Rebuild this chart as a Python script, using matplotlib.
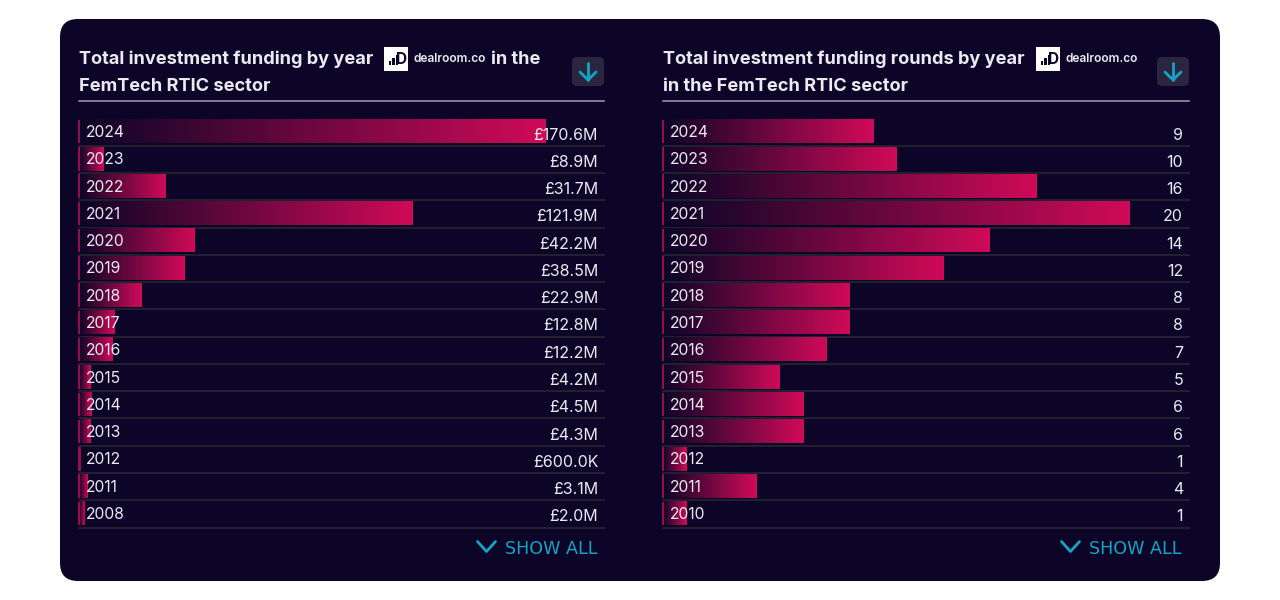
import numpy as np
import matplotlib
matplotlib.use("Agg")
import matplotlib.pyplot as plt
from matplotlib.colors import LinearSegmentedColormap
from matplotlib.patches import FancyBboxPatch, Rectangle

funding_years = ["2024", "2023", "2022", "2021", "2020", "2019", "2018", "2017",
                 "2016", "2015", "2014", "2013", "2012", "2011", "2008"]
funding_values = [170.6, 8.9, 31.7, 121.9, 42.2, 38.5, 22.9, 12.8,
                  12.2, 4.2, 4.5, 4.3, 0.6, 3.1, 2.0]
funding_labels = ["£170.6M", "£8.9M", "£31.7M", "£121.9M", "£42.2M", "£38.5M", "£22.9M", "£12.8M",
                  "£12.2M", "£4.2M", "£4.5M", "£4.3M", "£600.0K", "£3.1M", "£2.0M"]

round_years = ["2024", "2023", "2022", "2021", "2020", "2019", "2018", "2017",
               "2016", "2015", "2014", "2013", "2012", "2011", "2010"]
round_values = [9, 10, 16, 20, 14, 12, 8, 8, 7, 5, 6, 6, 1, 4, 1]

BG = "#0c0527"
TEXT = "#ece9f1"
CYAN = "#14a4c6"
FONT = "Inter"
W, H = 1280, 600

fig = plt.figure(figsize=(W / 100, H / 100), dpi=100, facecolor="white")
page = fig.add_axes([0, 0, 1, 1])
page.set_xlim(0, W)
page.set_ylim(H, 0)
page.axis("off")

page.add_patch(FancyBboxPatch((60, 19), 1160, 562,
                              boxstyle="round,pad=0,rounding_size=18",
                              fc=BG, ec="none"))

bar_cmap = LinearSegmentedColormap.from_list("bar", [BG, "#d00a58"])
ramp = np.linspace(0, 1, 256).reshape(1, -1)


def logo(x, y):
    page.add_patch(Rectangle((x, y), 24, 24, fc="white", ec="none"))
    for dx, top in ((4.5, 13.5), (8, 10.5), (11.5, 7.5)):
        page.add_patch(Rectangle((x + dx, y + top), 2.6, 17.5 - top, fc=BG, ec="none"))
    page.text(x + 18, y + 12, "D", color=BG, fontsize=11, fontweight="bold",
              family=FONT, ha="center", va="center")
    page.text(x + 29, y + 12.5, "dealroom.co", color=TEXT, fontsize=8.6,
              fontweight="semibold", family=FONT, ha="left", va="center")


def title(x, y, s):
    page.text(x, y, s, color=TEXT, fontsize=13.1, fontweight="bold",
              family=FONT, ha="left", va="center")


def download_button(x):
    page.add_patch(FancyBboxPatch((x, 57), 32, 29,
                                  boxstyle="round,pad=0,rounding_size=5",
                                  fc="#2a2640", ec="none"))
    cx = x + 16
    page.plot([cx, cx], [63, 80], color=CYAN, lw=2.0, solid_capstyle="round")
    page.plot([cx - 8, cx, cx + 8], [72, 80, 72], color=CYAN, lw=2.0,
              solid_capstyle="round", solid_joinstyle="round")


def show_all(right):
    page.text(right, 548.5, "SHOW ALL", color=CYAN, fontsize=12.6,
              family="DejaVu Sans", ha="right", va="center")
    x0 = right - 120
    page.plot([x0, x0 + 9, x0 + 18], [541.5, 551.5, 541.5], color=CYAN, lw=2.0,
              solid_capstyle="round", solid_joinstyle="round")


def bar_panel(left, right, per_px, years, values, labels):
    top, bottom = 118.4, 527.6
    ax = fig.add_axes([left / W, 1 - bottom / H, (right - left) / W, (bottom - top) / H])
    ax.patch.set_alpha(0)
    n = len(values)
    ax.set_xticks([])
    ax.set_yticks([])
    for s in ax.spines.values():
        s.set_visible(False)
    h = 23.5 / 27.28
    off = -0.02
    for i, v in enumerate(values):
        ax.imshow(ramp, cmap=bar_cmap, aspect="auto", interpolation="bilinear",
                  extent=(0, v, i + off + h / 2, i + off - h / 2), zorder=2)
        ax.plot([0, 0], [i + off - h / 2, i + off + h / 2], color="#c01258",
                lw=1.1, solid_capstyle="butt", zorder=3, clip_on=False)
        ax.axhline(i + 0.5, color="#25222f", lw=1.3, zorder=1, clip_on=False)
        ax.annotate(years[i], (0, i), xytext=(7, -0.5), xycoords="data", textcoords="offset pixels",
                    color=TEXT, fontsize=11.3, family=FONT, ha="left", va="center", zorder=4)
        ax.annotate(labels[i], (1, i), xytext=(-6, -3),
                    xycoords=ax.get_yaxis_transform(), textcoords="offset pixels",
                    color=TEXT, fontsize=11.5, family=FONT, ha="right", va="center", zorder=4)
    ax.set_xlim(0, (right - left) * per_px)
    ax.set_ylim(n - 0.5, -0.5)


# Left panel: funding per year
title(79, 59.5, "Total investment funding by year")
logo(384, 47)
title(491, 59.5, "in the")
title(79, 86.5, "FemTech RTIC sector")
download_button(572)
page.plot([79, 604], [100.5, 100.5], color="#a09eaa", lw=1.1)
bar_panel(79, 604, 1 / 2.737, funding_years, funding_values, funding_labels)
show_all(597.5)

# Right panel: rounds per year
title(663, 59.5, "Total investment funding rounds by year")
logo(1036, 47)
title(663, 86.5, "in the FemTech RTIC sector")
download_button(1157)
page.plot([663, 1189], [100.5, 100.5], color="#a09eaa", lw=1.1)
bar_panel(663, 1189, 1 / 23.35, round_years, round_values, [str(v) for v in round_values])
show_all(1181.5)

fig.savefig("out.png", dpi=100, facecolor="white")
